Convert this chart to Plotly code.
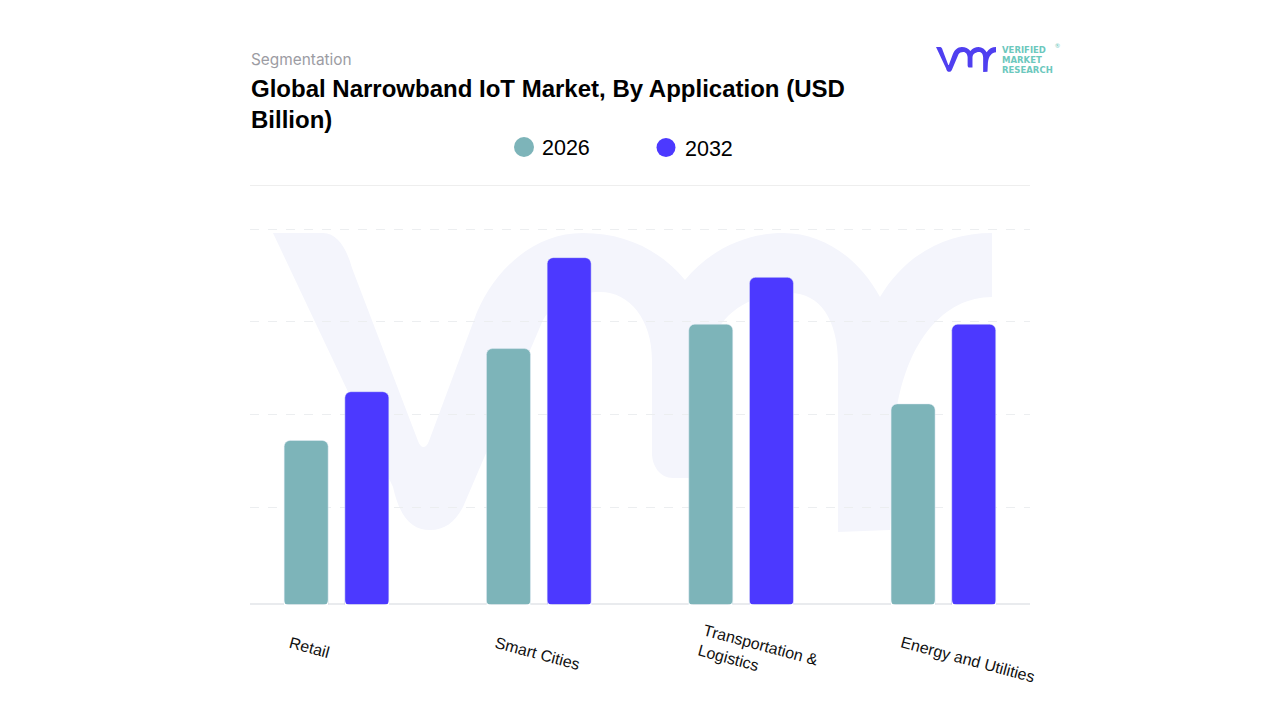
import plotly.graph_objects as go

categories = ["Retail", "Smart Cities", "Transportation & Logistics", "Energy and Utilities"]
category_labels = ["Retail", "Smart Cities", "Transportation &<br>Logistics", "Energy and Utilities"]
series_names = ["2026", "2032"]
values_2026 = [1.75, 2.73, 2.99, 2.14]
values_2032 = [2.27, 3.70, 3.49, 2.99]
grid_values = [1.03, 2.03, 3.02, 4.0]

TEAL = "#7db4b9"
BLUE = "#4c39ff"
# the page keeps the browser's 8px body margin, so the figure is 16px smaller than the window
PAGE_MARGIN = 8
W, H = 1280 - 2 * PAGE_MARGIN, 720 - 2 * PAGE_MARGIN


def px(x):
    return (x - PAGE_MARGIN) / W


def py(y):
    return 1 - (y - PAGE_MARGIN) / H


def logo_path(sx=1.0, sy=1.0, dx=0.0, dy=0.0):
    # vmr outline in pixels of the big watermark, scaled down for the small logo
    pts = [
        ("M", [(273, 233)]),
        ("L", [(323, 233)]),
        ("C", [(338, 233), (347, 250), (352, 268)]),
        ("L", [(418, 441)]),
        ("C", [(421, 449), (426, 449), (429, 441)]),
        ("L", [(474, 320)]),
        ("C", [(490, 275), (530, 233), (583, 233)]),
        ("C", [(625, 233), (660, 250), (685, 280)]),
        ("C", [(710, 250), (745, 233), (783, 233)]),
        ("C", [(825, 233), (860, 260), (880, 297)]),
        ("C", [(905, 255), (945, 233), (992, 233)]),
        ("L", [(992, 297)]),
        ("C", [(945, 297), (905, 340), (895, 420)]),
        ("L", [(890, 530)]),
        ("L", [(838, 532)]),
        ("L", [(838, 363)]),
        ("C", [(838, 320), (820, 293), (790, 293)]),
        ("C", [(745, 293), (710, 320), (710, 360)]),
        ("L", [(710, 478)]),
        ("L", [(673, 478)]),
        ("C", [(660, 478), (652, 466), (652, 453)]),
        ("L", [(652, 360)]),
        ("C", [(652, 320), (630, 292), (600, 292)]),
        ("C", [(575, 292), (555, 300), (543, 320)]),
        ("L", [(463, 507)]),
        ("C", [(455, 522), (445, 530), (430, 530)]),
        ("C", [(412, 530), (400, 518), (393, 487)]),
        ("Z", []),
    ]
    out = []
    for cmd, coords in pts:
        out.append(cmd + " ".join(f"{px(x * sx + dx):.5f},{py(y * sy + dy):.5f}" for x, y in coords))
    return " ".join(out)


def corner_masks(left, right, bottom, r):
    # plotly only rounds the top of a bar, the reference rounds the foot as well
    return [
        f"M{px(left):.5f},{py(bottom):.5f} L{px(left):.5f},{py(bottom - r):.5f} "
        f"Q{px(left):.5f},{py(bottom):.5f} {px(left + r):.5f},{py(bottom):.5f} Z",
        f"M{px(right):.5f},{py(bottom):.5f} L{px(right):.5f},{py(bottom - r):.5f} "
        f"Q{px(right):.5f},{py(bottom):.5f} {px(right - r):.5f},{py(bottom):.5f} Z",
    ]


fig = go.Figure()
fig.add_trace(go.Bar(x=categories, y=values_2026, name=series_names[0], marker=dict(color=TEAL, cornerradius=6)))
fig.add_trace(go.Bar(x=categories, y=values_2032, name=series_names[1], marker=dict(color=BLUE, cornerradius=6)))

shapes = [
    dict(type="path", xref="paper", yref="paper", path=logo_path(), fillcolor="#f4f5fc", line_width=0, layer="below"),
    dict(type="path", xref="paper", yref="paper", path=logo_path(60 / 719, 25 / 299, 936 - 273 * 60 / 719, 47 - 233 * 25 / 299),
         fillcolor="#4f3ff0", line_width=0),
    dict(type="line", xref="paper", yref="paper", x0=px(250), x1=px(1030), y0=py(185.5), y1=py(185.5),
         line=dict(color="#eeeeee", width=1)),
    dict(type="line", xref="paper", yref="paper", x0=px(250), x1=px(1030), y0=py(604), y1=py(604),
         line=dict(color="#e9ebee", width=2), layer="below"),
    dict(type="circle", xref="paper", yref="paper", x0=px(514), x1=px(534), y0=py(137), y1=py(157), fillcolor=TEAL, line_width=0),
    dict(type="circle", xref="paper", yref="paper", x0=px(656.5), x1=px(675.5), y0=py(138), y1=py(157), fillcolor=BLUE, line_width=0),
]

group_centres = [336.5, 539, 741, 943.5]
for gc in group_centres:
    for off in (-30.5, 30.5):
        for p in corner_masks(gc + off - 22, gc + off + 22, 604.9, 5):
            shapes.append(dict(type="path", xref="paper", yref="paper", path=p, fillcolor="#ffffff", line_width=0))

LOGO_FONT = dict(family="DejaVu Sans", size=8.5, color="#6cc8bd", weight="bold")
annotations = [
    dict(text="Segmentation", x=px(248.5), y=py(60), font=dict(family="Inter", size=15.4, color="#9c9ca3")),
    dict(text=series_names[0], x=px(540), y=py(148), font=dict(family="Liberation Sans", size=21.5, color="#000000")),
    dict(text=series_names[1], x=px(683), y=py(149), font=dict(family="Liberation Sans", size=21.5, color="#000000")),
    dict(text="VERIFIED", x=px(1000), y=py(50), font=LOGO_FONT),
    dict(text="MARKET", x=px(1000), y=py(60), font=LOGO_FONT),
    dict(text="RESEARCH", x=px(1000), y=py(70), font=LOGO_FONT),
    dict(text="®", x=px(1053), y=py(46), font=dict(family="Lato", size=6, color="#6cc8bd")),
]
for a in annotations:
    a.update(xref="paper", yref="paper", xanchor="left", yanchor="middle", showarrow=False)

# category labels sit left of the group centre, tilted
label_centres = [(309.5, 647), (538, 653), (757.5, 655), (968, 659)]
for cat, lab, (lx, ly), gc in zip(categories, category_labels, label_centres, group_centres):
    annotations.append(dict(
        text=lab, x=cat, xref="x", xshift=lx - gc, y=py(ly), yref="paper",
        xanchor="center", yanchor="middle", align="left", textangle=15, showarrow=False,
        font=dict(family="Liberation Sans", size=16, color="#111111"),
    ))

fig.update_layout(
    width=W,
    height=H,
    margin=dict(l=0, r=0, t=0, b=0),
    paper_bgcolor="#ffffff",
    plot_bgcolor="rgba(0,0,0,0)",
    barmode="group",
    bargap=0.4,
    bargroupgap=0.275,
    showlegend=False,
    title=dict(
        text="Global Narrowband IoT Market, By Application (USD<br>Billion)",
        x=px(251), xanchor="left", y=py(96.5), yanchor="top",
        font=dict(family="Liberation Sans", size=24, color="#000000", weight="bold"),
    ),
    shapes=shapes,
    annotations=annotations,
    xaxis=dict(
        domain=[px(250), px(1030)],
        range=[-0.4276, 3.428],
        showticklabels=False,
        ticks="",
        showgrid=False,
        showline=False,
        zeroline=False,
    ),
    yaxis=dict(
        domain=[py(604.5), py(185)],
        range=[0, 4.475],
        tickvals=grid_values,
        showticklabels=False,
        ticks="",
        showgrid=True,
        gridcolor="#eceef0",
        griddash="dash",
        gridwidth=1,
        zeroline=False,
    ),
)

fig.write_html("out.html")
